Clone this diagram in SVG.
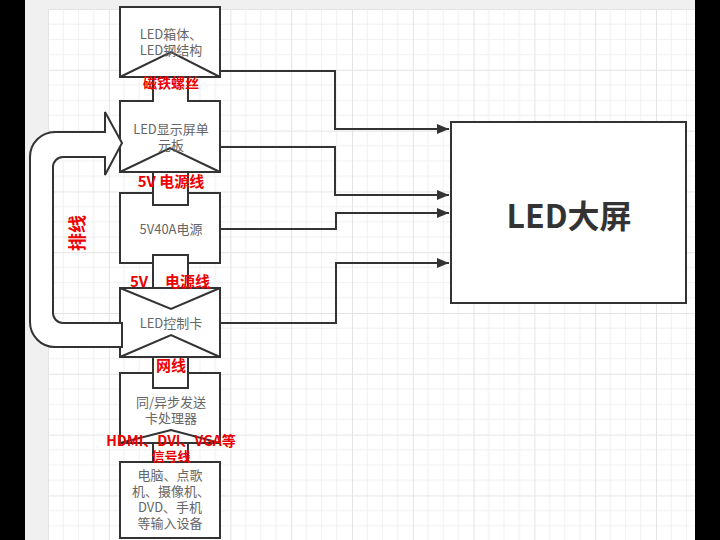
<svg xmlns="http://www.w3.org/2000/svg" width="720" height="540" viewBox="0 0 720 540">
<defs>
<pattern id="grid" x="48" y="9" width="60.8" height="60.8" patternUnits="userSpaceOnUse">
<path d="M15.2,0V60.8M30.4,0V60.8M45.6,0V60.8M0,15.2H60.8M0,30.4H60.8M0,45.6H60.8" stroke="#f0f0f0" stroke-width="1" fill="none"/>
<path d="M0.5,0V60.8M0,0.5H60.8" stroke="#e4e4e4" stroke-width="1" fill="none"/>
</pattern>
<marker id="arr" markerWidth="14" markerHeight="12" refX="12" refY="6" orient="auto" markerUnits="userSpaceOnUse">
<path d="M0,1 L12,6 L0,11 Z" fill="#333"/>
</marker>
<style>
.box{fill:#fff;stroke:#333;stroke-width:2}
.tri{fill:none;stroke:#333;stroke-width:2}
.t{font-family:"Noto Sans CJK SC","Noto Sans",sans-serif;font-size:13px;fill:#666;text-anchor:middle}
.red{font-family:"Noto Sans CJK SC","Noto Sans",sans-serif;font-weight:bold;fill:#ee0000}
.ln{fill:none;stroke:#333;stroke-width:2}
.neckfill{fill:#fff;stroke:none}
</style>
</defs>
<rect x="0" y="0" width="720" height="540" fill="#f0f0f0"/>
<rect x="48" y="9" width="647" height="531" fill="#fff"/>
<rect x="48" y="9" width="647" height="531" fill="url(#grid)"/>
<rect x="0" y="0" width="25" height="540" fill="#000"/>
<rect x="695" y="0" width="25" height="540" fill="#000"/>

<g id="node-box">
<rect class="box" x="120" y="7" width="100" height="70"/>
<polyline class="tri" points="120,77 171,52 220,77"/>
<text class="t" x="171" y="39">LED箱体、</text>
<text class="t" x="171" y="55">LED钢结构</text>
</g>
<g id="node-panel">
<rect class="box" x="120" y="101" width="100" height="71"/>
<polyline class="tri" points="120,172 170,148 220,172"/>
<text class="t" x="171" y="134">LED显示屏单</text>
<text class="t" x="171" y="150">元板</text>
</g>
<g id="node-power">
<rect class="box" x="120" y="193" width="100" height="70"/>
<text class="t" x="171" y="234">5V40A电源</text>
</g>
<g id="node-card">
<rect class="box" x="120" y="288" width="100" height="69"/>
<polyline class="tri" points="120,288 171,309 220,288"/>
<polyline class="tri" points="120,357 171,335 220,357"/>
<text class="t" x="171" y="328">LED控制卡</text>
</g>
<g id="node-sender">
<rect class="box" x="120" y="373" width="100" height="70"/>
<polyline class="tri" points="120,443 171,430 220,443"/>
<text class="t" x="171" y="407">同/异步发送</text>
<text class="t" x="171" y="423">卡处理器</text>
</g>
<g id="node-input">
<rect class="box" x="120" y="462" width="100" height="76"/>
<text class="t" x="170" y="480">电脑、点歌</text>
<text class="t" x="171" y="496">机、摄像机、</text>
<text class="t" x="170" y="512">DVD、手机</text>
<text class="t" x="170" y="528">等输入设备</text>
</g>
<g id="node-screen">
<rect class="box" x="451" y="122" width="235" height="181"/>
<text x="569" y="228" font-family="'Noto Sans CJK SC','Noto Sans',sans-serif" font-size="32" font-weight="bold" fill="#333" text-anchor="middle">LED大屏</text>
</g>

<g id="connectors">
<path d="M122,143 L105,112 L105,132 L55,132 A25,25 0 0 0 30,157 L30,322 A25,25 0 0 0 55,347 L122,347 L122,323 L63,323 A10,10 0 0 1 53,313 L53,167 A10,10 0 0 1 63,157 L105,157 L105,175 Z" fill="#fff" stroke="#333" stroke-width="2" stroke-linejoin="miter"/>

<rect class="neckfill" x="154" y="78" width="33" height="24"/>
<path class="ln" d="M153,77V101M188,77V101"/>
<rect class="neckfill" x="154" y="173" width="33" height="32"/>
<path class="ln" d="M153,172V205H188V172"/>
<rect class="neckfill" x="154" y="255" width="33" height="32"/>
<path class="ln" d="M153,288V255H188V288"/>
<rect class="neckfill" x="154" y="358" width="33" height="30"/>
<path class="ln" d="M153,357V388H188V357"/>
<rect class="neckfill" x="154" y="444" width="33" height="17"/>
<path class="ln" d="M153,443V462M188,443V462"/>

<path class="ln" d="M220,71H335V129H449" marker-end="url(#arr)"/>
<path class="ln" d="M220,147H335V195H449" marker-end="url(#arr)"/>
<path class="ln" d="M221,229H336V213H449" marker-end="url(#arr)"/>
<path class="ln" d="M221,323H336V263H449" marker-end="url(#arr)"/>

<text class="red" x="171" y="88" font-size="14" text-anchor="middle">磁铁螺丝</text>
<text class="red" x="171" y="187" font-size="15" text-anchor="middle">5V 电源线</text>
<text class="red" y="287" font-size="15"><tspan x="130">5V</tspan><tspan x="165">电源线</tspan></text>
<text class="red" x="171" y="371" font-size="15" text-anchor="middle">网线</text>
<text class="red" x="171" y="446" font-size="14" text-anchor="middle">HDMI、DVI、VGA等</text>
<text class="red" x="171" y="461" font-size="13" text-anchor="middle">信号线</text>
<text class="red" x="0" y="0" font-size="18" text-anchor="middle" transform="translate(84,233) rotate(-90)">排线</text>
</g>
</svg>
